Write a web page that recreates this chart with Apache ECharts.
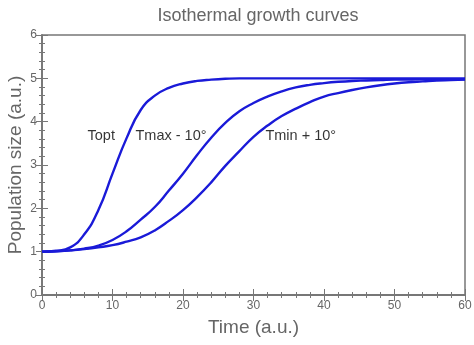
<!DOCTYPE html>
<html><head><meta charset="utf-8">
<script src="https://cdn.jsdelivr.net/npm/echarts@6/dist/echarts.min.js"></script>
<style>html,body{margin:0;padding:0;background:#fff}#c{width:474px;height:345px}</style>
</head><body><div id="c"></div>
<script>
const times = [0,2,4,6,8,10,12,14,16,18,20,22,24,26,28,30,32,34,36,38,40,42,44,46,48,50,52,54,56,58,60];
const topt = [1.0,1.02,1.1,1.4,1.96,2.8,3.62,4.27,4.6,4.78,4.88,4.94,4.97,4.99,5.0,5.0,5.0,5.0,5.0,5.0,5.0,5.0,5.0,5.0,5.0,5.0,5.0,5.0,5.0,5.0,5.0];
const tmaxMinus10 = [1.0,1.01,1.03,1.07,1.14,1.27,1.47,1.74,2.03,2.41,2.8,3.23,3.63,3.97,4.24,4.43,4.58,4.7,4.79,4.85,4.89,4.92,4.94,4.95,4.96,4.97,4.97,4.98,4.98,4.98,4.98];
const tminPlus10 = [1.0,1.01,1.03,1.06,1.1,1.15,1.23,1.33,1.49,1.71,1.96,2.26,2.6,2.98,3.32,3.65,3.91,4.13,4.3,4.45,4.58,4.66,4.73,4.79,4.84,4.88,4.91,4.93,4.95,4.96,4.97];
const seriesNames = ['Topt','Tmax - 10°','Tmin + 10°'];
const labelPos = [[8.4,3.66],[18.3,3.66],[36.7,3.66]];
const xTicks = [0,10,20,30,40,50,60];
const yTicks = [0,1,2,3,4,5,6];

const gray = '#666';
const pair = arr => times.map((t,i)=>[t,arr[i]]);
const lineStyle = {color:'#1a1ad8', width:2.4};
const mkSeries = (name, arr) => ({name, type:'line', data:pair(arr), smooth:0.5, showSymbol:false, lineStyle, xAxisIndex:0, yAxisIndex:0});
const tickCfg = {show:true, inside:true, length:6, lineStyle:{color:'#777', width:1}};
const minorCfg = {show:true, splitNumber:5, length:3, lineStyle:{color:'#777', width:1}};
const chart = echarts.init(document.getElementById('c'));
chart.setOption({
  animation:false,
  title:{text:'Isothermal growth curves', left:253, top:2, textAlign:'center',
    textStyle:{fontFamily:'Liberation Sans, Arial', fontSize:18, fontWeight:'normal', color:'#666'}},
  grid:{left:42, right:9, top:35, bottom:50, show:true, borderColor:'#777', borderWidth:1.5, outerBoundsMode:'none', containLabel:false},
  xAxis:[
    {type:'value', min:0, max:60, interval:10, position:'bottom',
     name:'Time (a.u.)', nameLocation:'middle', nameGap:23,
     nameTextStyle:{fontFamily:'Liberation Sans, Arial', fontSize:19, color:gray},
     axisLine:{show:true, lineStyle:{color:'#777', width:1.5}},
     axisTick:tickCfg, minorTick:minorCfg, splitLine:{show:false},
     axisLabel:{fontFamily:'Liberation Sans, Arial', fontSize:12, color:gray, margin:5}},
    {type:'value', min:0, max:60, interval:10, position:'top',
     axisLine:{show:true, lineStyle:{color:'#777', width:1.5}},
     axisTick:tickCfg, minorTick:minorCfg, splitLine:{show:false}, axisLabel:{show:false}}
  ],
  yAxis:[
    {type:'value', min:0, max:6, interval:1, position:'left',
     name:'Population size (a.u.)', nameLocation:'middle', nameGap:17, nameMoveOverlap:false,
     nameTextStyle:{fontFamily:'Liberation Sans, Arial', fontSize:19, color:gray},
     axisLine:{show:true, lineStyle:{color:'#777', width:1.5}},
     axisTick:tickCfg, minorTick:minorCfg, splitLine:{show:false},
     axisLabel:{fontFamily:'Liberation Sans, Arial', fontSize:12, color:gray, margin:5}},
    {type:'value', min:0, max:6, interval:1, position:'right',
     axisLine:{show:true, lineStyle:{color:'#777', width:1.5}},
     axisTick:tickCfg, minorTick:minorCfg, splitLine:{show:false}, axisLabel:{show:false}}
  ],
  series:[
    mkSeries(seriesNames[0], topt),
    mkSeries(seriesNames[1], tmaxMinus10),
    mkSeries(seriesNames[2], tminPlus10),
    {type:'scatter', symbolSize:0, silent:true,
     data:seriesNames.map((n,i)=>({value:labelPos[i], name:n})),
     label:{show:true, position:'inside', formatter:p=>p.name, color:'#000',
       fontFamily:'Liberation Sans, Arial', fontSize:14.5}}
  ]
});
</script></body></html>
